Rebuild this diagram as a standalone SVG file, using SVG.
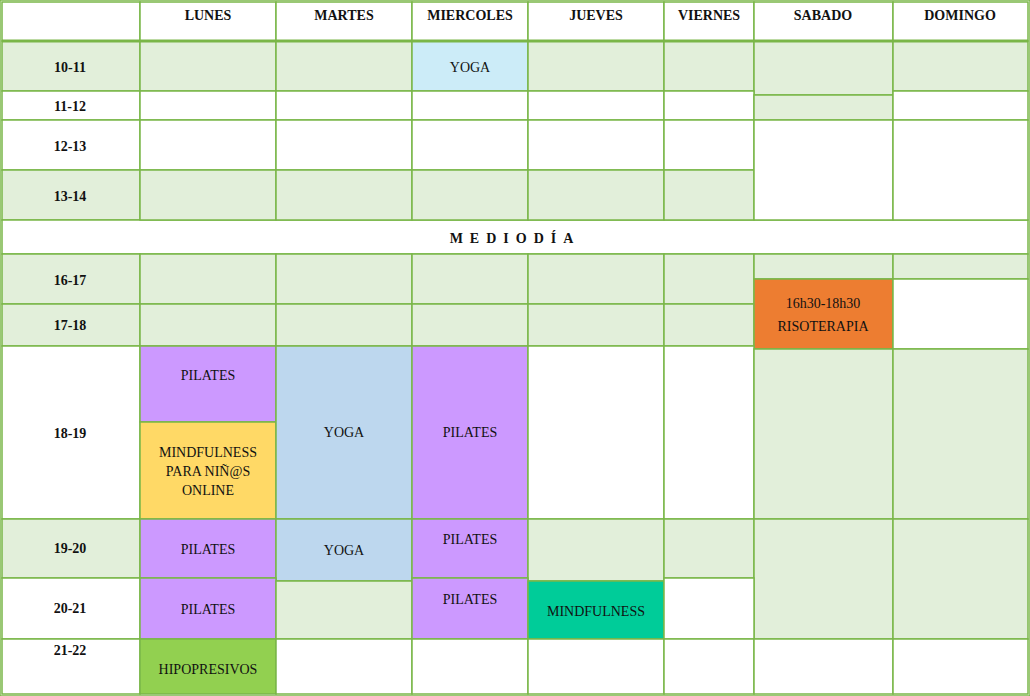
<svg xmlns="http://www.w3.org/2000/svg" width="1030" height="696" viewBox="0 0 1030 696">
<style>
rect{stroke:#7ab648;stroke-width:1.5}
.g{fill:#e2efda}.w{fill:#fff}.p{fill:#cc99ff}.y{fill:#ffd966}.b{fill:#bdd7ee}.lb{fill:#ccecf8}.t{fill:#00cc99}.o{fill:#ed7d31}.hg{fill:#92d050}
text{font-family:"Liberation Serif","Times New Roman",serif;font-size:14px;fill:#111;text-anchor:middle}
.h{font-weight:bold}
</style>
<rect x="0" y="0" width="1030" height="696" fill="#fff" stroke="none"/>
<g id="header">
<rect class="w" x="2" y="2" width="138" height="39"/><rect class="w" x="140" y="2" width="136" height="39"/><rect class="w" x="276" y="2" width="136" height="39"/><rect class="w" x="412" y="2" width="116" height="39"/><rect class="w" x="528" y="2" width="136" height="39"/><rect class="w" x="664" y="2" width="90" height="39"/><rect class="w" x="754" y="2" width="139" height="39"/><rect class="w" x="893" y="2" width="135" height="39"/>
<text class="h" x="208" y="20">LUNES</text><text class="h" x="344" y="20">MARTES</text><text class="h" x="470" y="20">MIERCOLES</text><text class="h" x="596" y="20">JUEVES</text><text class="h" x="709" y="20">VIERNES</text><text class="h" x="823" y="20">SABADO</text><text class="h" x="960" y="20">DOMINGO</text>
</g>
<g id="times">
<rect class="g" x="2" y="41" width="138" height="50"/><rect class="w" x="2" y="91" width="138" height="29"/><rect class="w" x="2" y="120" width="138" height="50"/><rect class="g" x="2" y="170" width="138" height="50"/>
<rect class="w" x="2" y="220" width="1026" height="34"/>
<rect class="g" x="2" y="254" width="138" height="50"/><rect class="g" x="2" y="304" width="138" height="42"/><rect class="w" x="2" y="346" width="138" height="173"/><rect class="g" x="2" y="519" width="138" height="59"/><rect class="w" x="2" y="578" width="138" height="61"/><rect class="w" x="2" y="639" width="138" height="55"/>
<g class="h"><text class="h" x="70" y="72">10-11</text><text class="h" x="70" y="111">11-12</text><text class="h" x="70" y="151">12-13</text><text class="h" x="70" y="201">13-14</text><text class="h" x="70" y="285">16-17</text><text class="h" x="70" y="330">17-18</text><text class="h" x="70" y="438">18-19</text><text class="h" x="70" y="553">19-20</text><text class="h" x="70" y="613">20-21</text><text class="h" x="70" y="655">21-22</text></g>
<text class="h" x="515" y="243" letter-spacing="7">MEDIODÍA</text>
</g>
<g id="morning">
<rect class="g" x="140" y="41" width="136" height="50"/><rect class="g" x="276" y="41" width="136" height="50"/><rect class="lb" x="412" y="41" width="116" height="50"/><rect class="g" x="528" y="41" width="136" height="50"/><rect class="g" x="664" y="41" width="90" height="50"/><rect class="g" x="754" y="41" width="139" height="54"/><rect class="g" x="893" y="41" width="135" height="50"/>
<text x="470" y="72">YOGA</text>
<rect class="w" x="140" y="91" width="136" height="29"/><rect class="w" x="276" y="91" width="136" height="29"/><rect class="w" x="412" y="91" width="116" height="29"/><rect class="w" x="528" y="91" width="136" height="29"/><rect class="w" x="664" y="91" width="90" height="29"/><rect class="g" x="754" y="95" width="139" height="25"/><rect class="w" x="893" y="91" width="135" height="29"/>
<rect class="w" x="140" y="120" width="136" height="50"/><rect class="w" x="276" y="120" width="136" height="50"/><rect class="w" x="412" y="120" width="116" height="50"/><rect class="w" x="528" y="120" width="136" height="50"/><rect class="w" x="664" y="120" width="90" height="50"/>
<rect class="g" x="140" y="170" width="136" height="50"/><rect class="g" x="276" y="170" width="136" height="50"/><rect class="g" x="412" y="170" width="116" height="50"/><rect class="g" x="528" y="170" width="136" height="50"/><rect class="g" x="664" y="170" width="90" height="50"/>
<rect class="w" x="754" y="120" width="139" height="100"/><rect class="w" x="893" y="120" width="135" height="100"/>
</g>
<g id="afternoon">
<rect class="g" x="140" y="254" width="136" height="50"/><rect class="g" x="276" y="254" width="136" height="50"/><rect class="g" x="412" y="254" width="116" height="50"/><rect class="g" x="528" y="254" width="136" height="50"/><rect class="g" x="664" y="254" width="90" height="50"/><rect class="g" x="754" y="254" width="139" height="25"/><rect class="g" x="893" y="254" width="135" height="25"/>
<rect class="g" x="140" y="304" width="136" height="42"/><rect class="g" x="276" y="304" width="136" height="42"/><rect class="g" x="412" y="304" width="116" height="42"/><rect class="g" x="528" y="304" width="136" height="42"/><rect class="g" x="664" y="304" width="90" height="42"/>
<rect class="o" x="754" y="279" width="139" height="70"/><rect class="w" x="893" y="279" width="135" height="70"/>
<text x="823" y="308">16h30-18h30</text><text x="823" y="331">RISOTERAPIA</text>
<rect class="p" x="140" y="346" width="136" height="76"/><text x="208" y="380">PILATES</text>
<rect class="y" x="140" y="422" width="136" height="97"/><text x="208" y="457">MINDFULNESS</text><text x="208" y="476">PARA NIÑ@S</text><text x="208" y="495">ONLINE</text>
<rect class="b" x="276" y="346" width="136" height="173"/><text x="344" y="437">YOGA</text>
<rect class="p" x="412" y="346" width="116" height="173"/><text x="470" y="437">PILATES</text>
<rect class="w" x="528" y="346" width="136" height="173"/><rect class="w" x="664" y="346" width="90" height="173"/>
<rect class="g" x="754" y="349" width="139" height="170"/><rect class="g" x="893" y="349" width="135" height="170"/>
<rect class="p" x="140" y="519" width="136" height="59"/><text x="208" y="554">PILATES</text>
<rect class="b" x="276" y="519" width="136" height="62"/><text x="344" y="555">YOGA</text>
<rect class="p" x="412" y="519" width="116" height="59"/><text x="470" y="544">PILATES</text>
<rect class="g" x="528" y="519" width="136" height="62"/><rect class="g" x="664" y="519" width="90" height="59"/>
<rect class="g" x="754" y="519" width="139" height="120"/><rect class="g" x="893" y="519" width="135" height="120"/>
<rect class="p" x="140" y="578" width="136" height="61"/><text x="208" y="614">PILATES</text>
<rect class="g" x="276" y="581" width="136" height="58"/>
<rect class="p" x="412" y="578" width="116" height="61"/><text x="470" y="604">PILATES</text>
<rect class="t" x="528" y="581" width="136" height="58"/><text x="596" y="616">MINDFULNESS</text>
<rect class="w" x="664" y="578" width="90" height="61"/>
<rect class="hg" x="140" y="639" width="136" height="55"/><text x="208" y="674">HIPOPRESIVOS</text>
<rect class="w" x="276" y="639" width="136" height="55"/><rect class="w" x="412" y="639" width="116" height="55"/><rect class="w" x="528" y="639" width="136" height="55"/><rect class="w" x="664" y="639" width="90" height="55"/><rect class="w" x="754" y="639" width="139" height="55"/><rect class="w" x="893" y="639" width="135" height="55"/>
</g>
<line x1="2" y1="41" x2="1028" y2="41" stroke="#7ab648" stroke-width="3"/>
</svg>
